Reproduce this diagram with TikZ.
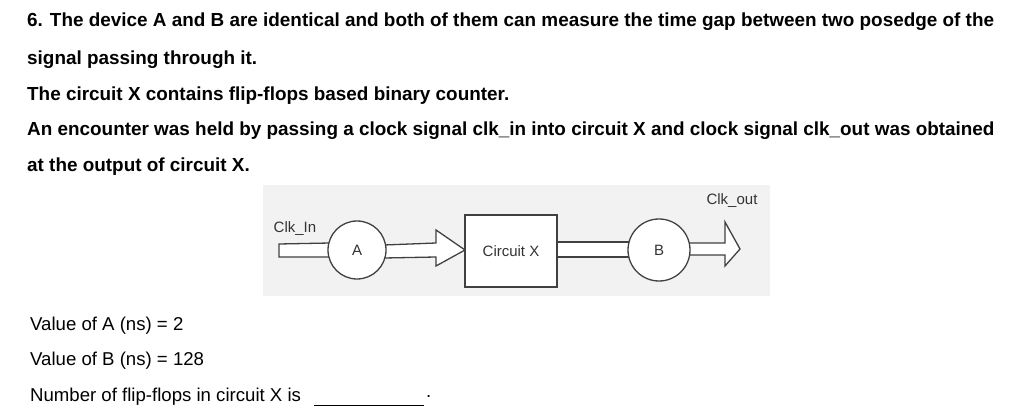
\documentclass[tikz,border=0pt]{standalone}
\usepackage{fontspec}
\setmainfont{Liberation Sans}
\begin{document}
\begin{tikzpicture}[x=1pt,y=-1pt,
  q/.style={anchor=west,inner sep=0,font=\fontsize{18.9}{22}\selectfont\bfseries},
  v/.style={anchor=west,inner sep=0,font=\fontsize{18.6}{22}\selectfont},
  sm/.style={inner sep=0,font=\fontsize{15}{17}\selectfont,text=black!80},
  ln/.style={draw=black!75,line width=1.3pt,fill=white}]
\useasboundingbox (0,0) rectangle (1024,411);
\node[q] (l1) at (27,22) {6. The device A and B are identical and both of them can measure the time gap between two posedge of the};
\node[q] (l2) at (27,60) {signal passing through it.};
\node[q] (l3) at (27,96) {The circuit X contains flip-flops based binary counter.};
\node[q] (l4) at (27,131) {An encounter was held by passing a clock signal clk\_in into circuit X and clock signal clk\_out was obtained};
\node[q] (l5) at (27,167) {at the output of circuit X.};
\fill[black!5] (263,185) rectangle (770,296);
\draw[ln] (279,244) -- (330,243) -- (330,257) -- (279,257) -- cycle;
\draw[ln] (384,245) -- (436,243) -- (436,230) -- (465,250) -- (436,266) -- (436,257) -- (384,258) -- cycle;
\draw[ln] (557,242) rectangle (630,257);
\draw[ln] (687,243) -- (725,243) -- (725,222) -- (740,249) -- (725,266) -- (725,255) -- (687,255) -- cycle;
\node[ln,circle,minimum size=58pt,sm] (A) at (357,250) {A};
\node[ln,circle,minimum size=62pt,sm] (B) at (659,250) {B};
\node[ln,rectangle,minimum width=92pt,minimum height=72pt,sm] (X) at (511,251) {Circuit X};
\node[sm] (ci) at (295,229) {Clk\_In};
\node[sm] (co) at (732,201) {Clk\_out};
\node[v] (v1) at (30,326) {Value of A (ns) = 2};
\node[v] (v2) at (30,361) {Value of B (ns) = 128};
\node[v] (v3) at (30,397) {Number of flip-flops in circuit X is};
\coordinate (u1) at (314,405);
\coordinate (u2) at (424,405);
\draw[line width=0.8pt] (u1) -- (u2);
\node[v] (dot) at (426,397) {.};
\end{tikzpicture}
\end{document}
